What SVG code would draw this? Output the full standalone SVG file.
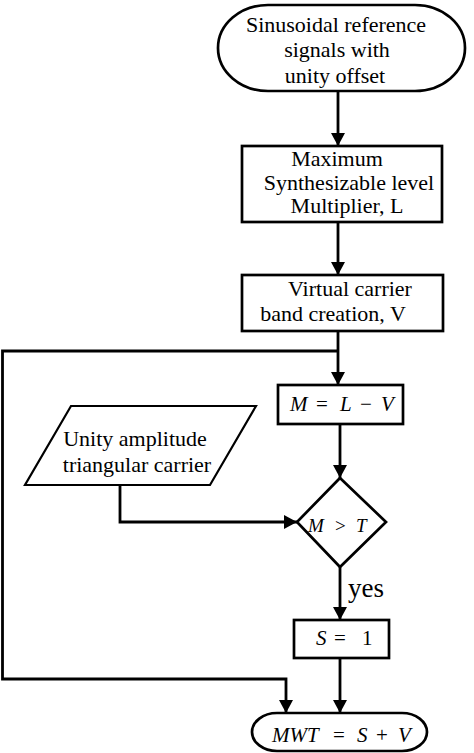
<svg xmlns="http://www.w3.org/2000/svg" width="474" height="753" viewBox="0 0 474 753">
<style>
.s{fill:#fff;stroke:#000;stroke-width:2.7}
.t{font-family:"Liberation Serif","Times New Roman",serif;font-size:22px;fill:#000;text-anchor:middle}
.m{font-family:"Liberation Serif","Times New Roman",serif;font-size:21px;font-style:italic;fill:#000}
.u{font-style:normal}
.c{fill:none;stroke:#000;stroke-width:2.8}
</style>
<defs>
<marker id="a" markerUnits="userSpaceOnUse" markerWidth="14" markerHeight="14" refX="13" refY="7" orient="auto">
<path d="M0,0 L13,7 L0,14 Z" fill="#000"/>
</marker>
</defs>
<g id="connectors">
<path class="c" d="M338,91 V146" marker-end="url(#a)"/>
<path class="c" d="M338,222 V275" marker-end="url(#a)"/>
<path class="c" d="M338,331 V385" marker-end="url(#a)"/>
<path class="c" d="M340,424 V478" marker-end="url(#a)"/>
<path class="c" d="M120,485 V522 H297" marker-end="url(#a)"/>
<path class="c" d="M340,567 V620" marker-end="url(#a)"/>
<path class="c" d="M340,658 V713" marker-end="url(#a)"/>
<path class="c" d="M338,351 H2.5 V679 H286 V713" marker-end="url(#a)"/>
<text x="348" y="597" style="font-family:'Liberation Serif','Times New Roman',serif;font-size:27px">yes</text>
</g>
<g id="start">
<rect class="s" x="218" y="5" width="247" height="86" rx="50" ry="43"/>
<text class="t" x="336" y="32">Sinusoidal reference</text>
<text class="t" x="337" y="57">signals with</text>
<text class="t" x="335" y="83">unity offset</text>
</g>
<g id="multiplier">
<rect class="s" x="242" y="146" width="200" height="76"/>
<text class="t" x="337" y="166">Maximum</text>
<text class="t" x="349" y="190">Synthesizable level</text>
<text class="t" x="347" y="213">Multiplier, L</text>
</g>
<g id="virtual">
<rect class="s" x="242" y="275" width="201" height="56"/>
<text class="t" x="350" y="296">Virtual carrier</text>
<text class="t" x="333" y="321">band creation, V</text>
</g>
<g id="mlv">
<rect class="s" x="278" y="385" width="125" height="39"/>
<text class="m" y="411"><tspan x="290">M</tspan><tspan class="u" x="316">=</tspan><tspan x="340">L</tspan><tspan class="u" x="360">−</tspan><tspan x="381">V</tspan></text>
</g>
<g id="carrier">
<path class="s" style="stroke-width:2.2" d="M71,406 H256 L210,485 H25 Z"/>
<text class="t" x="135" y="446">Unity amplitude</text>
<text class="t" x="137" y="472">triangular carrier</text>
</g>
<g id="decision">
<path class="s" d="M340,478 L386,522 L340,567 L297,522 Z"/>
<text class="m" y="532" style="font-size:19px"><tspan x="308">M</tspan><tspan class="u" x="335">&gt;</tspan><tspan x="356">T</tspan></text>
</g>
<g id="s1">
<rect class="s" x="294" y="620" width="95" height="38"/>
<text class="m" y="645"><tspan x="316">S</tspan><tspan class="u" x="334">=</tspan><tspan class="u" x="362">1</tspan></text>
</g>
<g id="end">
<rect class="s" x="252" y="713" width="175" height="38" rx="25" ry="19"/>
<text class="m" y="742"><tspan x="272">MWT</tspan><tspan class="u" x="333">=</tspan><tspan x="357">S</tspan><tspan class="u" x="376">+</tspan><tspan x="398">V</tspan></text>
</g>
</svg>
